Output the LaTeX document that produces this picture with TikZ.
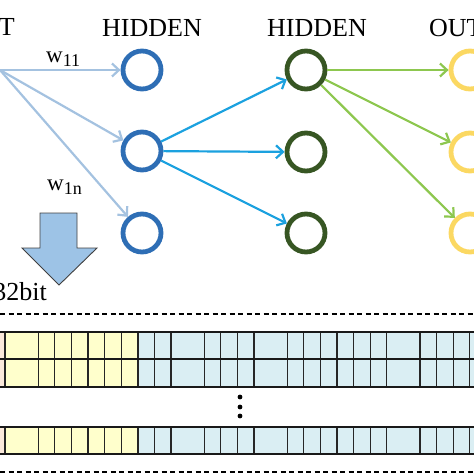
\documentclass[tikz,border=0pt]{standalone}
\usepackage{fontspec}
\setmainfont{Liberation Serif}
\usetikzlibrary{arrows.meta}
\definecolor{inarr}{HTML}{A4C2E0}
\definecolor{hone}{HTML}{2E6EB5}
\definecolor{cyanarr}{HTML}{1BA1DF}
\definecolor{htwo}{HTML}{375623}
\definecolor{greenarr}{HTML}{8DC74F}
\definecolor{outc}{HTML}{FBD862}
\definecolor{bigarr}{HTML}{9DC3E6}
\definecolor{cellyel}{HTML}{FFFFCC}
\definecolor{cellblue}{HTML}{DAEEF3}
\definecolor{cellpink}{HTML}{FBE9DB}
\begin{document}
\begin{tikzpicture}[x=1pt,y=-1pt,
  neuron/.style={circle,inner sep=0pt,minimum size=38pt,line width=4.8pt,draw=#1},
  conn/.style={line width=2.2pt,draw=#1,-{Straight Barb[length=7pt,width=13pt,line width=2.2pt]}},
  title/.style={anchor=base,font=\fontsize{26}{26}\selectfont,inner sep=0pt},
  wlab/.style={anchor=base west,font=\fontsize{23}{23}\selectfont,inner sep=0pt},
  cellline/.style={line width=1.2pt,draw=black!85},
  edge/.style={line width=#1,draw=black!90}
]
\useasboundingbox (0,0) rectangle (474,474);
\clip (0,0) rectangle (474,474);
% titles
\node[title,anchor=base east] (tin) at (15,35) {INPUT};
\node[title] (th1) at (152,36) {HIDDEN};
\node[title] (th2) at (317,36) {HIDDEN};
\node[title,anchor=base west] (tout) at (429,36) {OUTPUT};
% neurons
\node[neuron=hone] (a1) at (142,70) {};
\node[neuron=hone] (a2) at (142,151) {};
\node[neuron=hone] (a3) at (142,233) {};
\node[neuron=htwo] (b1) at (306,70) {};
\node[neuron=htwo] (b2) at (306,152) {};
\node[neuron=htwo] (b3) at (306,233) {};
\node[neuron=outc] (c1) at (470,70) {};
\node[neuron=outc] (c2) at (470,152) {};
\node[neuron=outc] (c3) at (470,233) {};
\coordinate (in) at (0,70);
% connectors
\draw[conn=inarr] (in) -- (a1);
\draw[conn=inarr] (in) -- (a2);
\draw[conn=inarr] (in) -- (a3);
\foreach \t in {b1,b2,b3} \draw[conn=cyanarr] (a2) -- (\t);
\foreach \t in {c1,c2,c3} \draw[conn=greenarr] (b1) -- (\t);
\node[wlab] (w11) at (46,62) {w\raisebox{-4pt}{\fontsize{18}{18}\selectfont 11}};
\node[wlab] (w1n) at (47,190) {w\raisebox{-4pt}{\fontsize{18}{18}\selectfont 1n}};
% big arrow
\draw[fill=bigarr,draw=black!75,line width=0.9pt] (40,213) -- (77,213) -- (77,248) -- (97,248) -- (59,285) -- (22,248) -- (40,248) -- cycle;
\node[title,anchor=base east] (bits) at (47,300) {32bit};
% dashed lines
\draw[dashed,line width=1.5pt,dash pattern=on 5pt off 3.5pt] (0,314) -- (474,314);
\draw[dashed,line width=1.5pt,dash pattern=on 5pt off 3.5pt] (0,472) -- (474,472);
% table rows
\foreach \ya/\yb in {332/359,359/387,427/454}{
  \fill[cellpink] (0,\ya) rectangle (5,\yb);
  \fill[cellyel] (5,\ya) rectangle (138,\yb);
  \fill[cellblue] (138,\ya) rectangle (474,\yb);
  \foreach \xx in {5,38.2,54.8,71.4,88,104.6,121.2,154.4,171,204.2,220.8,237.4,254,287.2,303.8,320.4,337,353.6,370.2,386.8,420,436.6,453.2,469.8}
    \draw[cellline] (\xx,\ya) -- (\xx,\yb);
  \draw[line width=1.6pt,draw=black!85] (138,\ya) -- (138,\yb);
}
\draw[edge=2pt] (0,332) -- (474,332);
\draw[edge=1.3pt] (0,359) -- (474,359);
\draw[edge=2.6pt] (0,387) -- (474,387);
\draw[edge=2pt] (0,427) -- (474,427);
\draw[edge=2.6pt] (0,454) -- (474,454);
% vertical dots
\foreach \yy in {397,407,416} \fill (240,\yy) circle (2.4pt);
\end{tikzpicture}
\end{document}
